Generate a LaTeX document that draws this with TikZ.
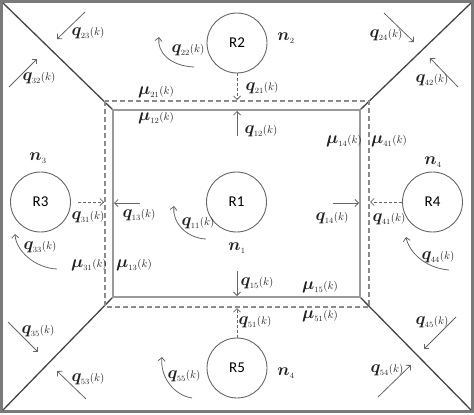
\documentclass[tikz,border=0pt]{standalone}
\usepackage{fontspec}
\usepackage{bm}
\newfontfamily\rfont{Carlito}
\usetikzlibrary{arrows.meta}
\definecolor{framec}{HTML}{7A7A7A}
\definecolor{diagc}{HTML}{444444}
\definecolor{innerc}{HTML}{999999}
\definecolor{dashc}{HTML}{8A8A8A}
\definecolor{arrc}{HTML}{666666}
\definecolor{txtc}{HTML}{222222}
\newcommand\qk[1]{$\bm{q}_{\scriptscriptstyle #1}{\scriptstyle(k)}$}
\newcommand\mk[1]{$\bm{\mu}_{\scriptscriptstyle #1}{\scriptstyle(k)}$}
\newcommand\nk[1]{$\bm{n}_{\scriptscriptstyle #1}$}
\tikzset{
  room/.style={circle, draw=arrc, line width=0.9pt, minimum size=60pt, inner sep=0pt, font=\rfont\fontsize{15}{15}\selectfont, text=black},
  lab/.style={inner sep=0pt, text=txtc, font=\fontsize{16}{18}\selectfont},
  arr/.style={draw=arrc, line width=0.8pt, -{Straight Barb[length=3.5pt,width=7pt]}},
  darr/.style={arr, dash pattern=on 3pt off 2pt},
  diag/.style={draw=diagc, line width=1.3pt},
  dashwall/.style={draw=dashc, line width=1.1pt, dash pattern=on 5pt off 3pt},
}
\begin{document}
\begin{tikzpicture}[x=1pt,y=-1pt]
\useasboundingbox (0,0) rectangle (474,415);
% frame
\draw[framec, line width=3pt] (1.5,1.5) rectangle (472.5,411.5);
% diagonals
\coordinate (TL) at (3,3); \coordinate (TR) at (471,3);
\coordinate (BL) at (3,410); \coordinate (BR) at (471,410);
\coordinate (iTL) at (113,110); \coordinate (iTR) at (360,110);
\coordinate (iBL) at (113,297); \coordinate (iBR) at (360,297);
\draw[diag] (TL) -- (iTL);
\draw[diag] (TR) -- (iTR);
\draw[diag] (BL) -- (iBL);
\draw[diag] (BR) -- (iBR);
% walls
\draw[dashwall] (105,101) rectangle (369,307);
\draw[draw=innerc, line width=2pt] (iTL) rectangle (iBR);
% rooms
\node[room] (R1) at (236.5,202) {R1};
\node[room] (R2) at (237,43) {R2};
\node[room] (R3) at (40.5,202) {R3};
\node[room] (R4) at (432.5,202) {R4};
\node[room] (R5) at (237,368) {R5};
% n labels
\node[lab] (n1) at (237,248) {\nk{1}};
\node[lab] (n2) at (286,38) {\nk{2}};
\node[lab] (n3) at (38,158) {\nk{3}};
\node[lab] (n4) at (433,162) {\nk{4}};
\node[lab] (n5) at (286,373) {\nk{4}};
% top region
\coordinate (a23s) at (85,12); \coordinate (a23e) at (57,39);
\draw[arr] (a23s) -- (a23e);
\node[lab] (l23) at (88,33) {\qk{23}};
\coordinate (a32s) at (9,87); \coordinate (a32e) at (37,59);
\draw[arr] (a32s) -- (a32e);
\node[lab] (l32) at (39,78) {\qk{32}};
\coordinate (a22s) at (194,67); \coordinate (a22e) at (159,37);
\draw[arr] (a22s) .. controls (170,66) and (157,52) .. (a22e);
\node[lab] (l22) at (188,50) {\qk{22}};
\coordinate (a21e) at (237,100);
\draw[darr] (R2.south) -- (a21e);
\node[lab] (l21) at (262,88) {\qk{21}};
\coordinate (a12s) at (237,136); \coordinate (a12e) at (237,111);
\draw[arr] (a12s) -- (a12e);
\node[lab] (l12) at (261,131) {\qk{12}};
\node[lab] (m21) at (156,92) {\mk{21}};
\node[lab] (m12) at (156,118) {\mk{12}};
% top right
\coordinate (a24s) at (384,13); \coordinate (a24e) at (414,42);
\draw[arr] (a24s) -- (a24e);
\node[lab] (l24) at (386,35) {\qk{24}};
\coordinate (a42s) at (458,87); \coordinate (a42e) at (430,58);
\draw[arr] (a42s) -- (a42e);
\node[lab] (l42) at (432,80) {\qk{42}};
% right
\node[lab] (m14) at (344,141) {\mk{14}};
\node[lab] (m41) at (389,141) {\mk{41}};
\coordinate (a14s) at (333,203); \coordinate (a14e) at (359,203);
\draw[arr] (a14s) -- (a14e);
\node[lab] (l14) at (332,218) {\qk{14}};
\coordinate (a41e) at (370,202);
\draw[darr] (R4.west) -- (a41e);
\node[lab] (l41) at (389,219) {\qk{41}};
\coordinate (a44s) at (449,270); \coordinate (a44e) at (406,237);
\draw[arr] (a44s) .. controls (425,268) and (409,252) .. (a44e);
\node[lab] (l44) at (438,257) {\qk{44}};
% left
\coordinate (a31e) at (104,202);
\draw[darr] ([xshift=7pt]R3.east) -- (a31e);
\node[lab] (l31) at (88,217) {\qk{31}};
\coordinate (a13s) at (140,203); \coordinate (a13e) at (114,203);
\draw[arr] (a13s) -- (a13e);
\node[lab] (l13) at (139,215) {\qk{13}};
\coordinate (a11s) at (206,239); \coordinate (a11e) at (174,206);
\draw[arr] (a11s) .. controls (185,238) and (172,221) .. (a11e);
\node[lab] (l11) at (198,223) {\qk{11}};
\coordinate (a33s) at (57,269); \coordinate (a33e) at (15,234);
\draw[arr] (a33s) .. controls (35,268) and (16,251) .. (a33e);
\node[lab] (l33) at (40,247) {\qk{33}};
\node[lab] (m31) at (89,265) {\mk{31}};
\node[lab] (m13) at (134,265) {\mk{13}};
% bottom
\coordinate (a15s) at (237,271); \coordinate (a15e) at (237,296);
\draw[arr] (a15s) -- (a15e);
\node[lab] (l15) at (257,283) {\qk{15}};
\coordinate (a51e) at (237,308);
\draw[darr] (R5.north) -- (a51e);
\node[lab] (l51) at (255,322) {\qk{51}};
\node[lab] (m15) at (320,287) {\mk{15}};
\node[lab] (m51) at (320,316) {\mk{51}};
% bottom left
\coordinate (a35s) at (8,322); \coordinate (a35e) at (38,352);
\draw[arr] (a35s) -- (a35e);
\node[lab] (l35) at (38,331) {\qk{35}};
\coordinate (a53s) at (86,399); \coordinate (a53e) at (57,371);
\draw[arr] (a53s) -- (a53e);
\node[lab] (l53) at (88,379) {\qk{53}};
\coordinate (a55s) at (192,398); \coordinate (a55e) at (162,357);
\draw[arr] (a55s) .. controls (173,395) and (160,376) .. (a55e);
\node[lab] (l55) at (184,376) {\qk{55}};
% bottom right
\coordinate (a45s) at (456,317); \coordinate (a45e) at (424,349);
\draw[arr] (a45s) -- (a45e);
\node[lab] (l45) at (432,322) {\qk{45}};
\coordinate (a54s) at (378,397); \coordinate (a54e) at (411,365);
\draw[arr] (a54s) -- (a54e);
\node[lab] (l54) at (387,370) {\qk{54}};
\end{tikzpicture}
\end{document}
